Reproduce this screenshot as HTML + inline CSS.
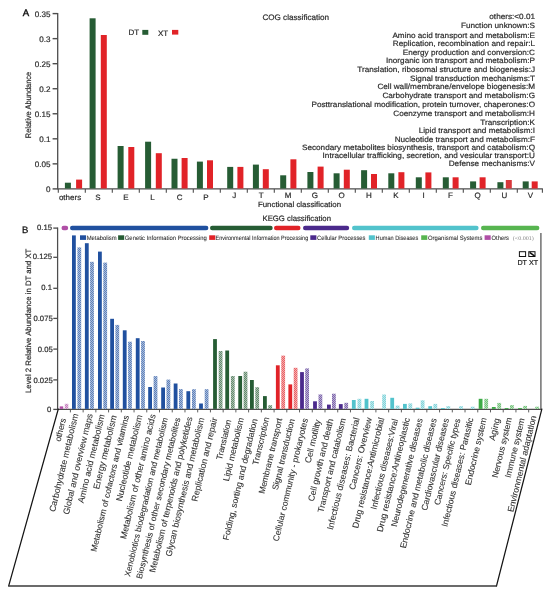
<!DOCTYPE html>
<html lang="en"><head><meta charset="utf-8"><title>COG and KEGG classification</title>
<style>html,body{margin:0;padding:0;background:#fff}svg{display:block}</style></head>
<body>
<svg width="550" height="596" viewBox="0 0 550 596" text-rendering="geometricPrecision" font-family="Liberation Sans, sans-serif">
<rect width="550" height="596" fill="#ffffff"/>
<defs>
<pattern id="h_blue" width="2" height="2" patternUnits="userSpaceOnUse"><rect width="2" height="2" fill="#aabcdb"/><rect width="1" height="1" fill="#5e81ba"/><rect x="1" y="1" width="1" height="1" fill="#5e81ba"/></pattern>
<pattern id="h_green" width="2" height="2" patternUnits="userSpaceOnUse"><rect width="2" height="2" fill="#adc1b2"/><rect width="1" height="1" fill="#638a6d"/><rect x="1" y="1" width="1" height="1" fill="#638a6d"/></pattern>
<pattern id="h_red" width="2" height="2" patternUnits="userSpaceOnUse"><rect width="2" height="2" fill="#f4abad"/><rect width="1" height="1" fill="#e96164"/><rect x="1" y="1" width="1" height="1" fill="#e96164"/></pattern>
<pattern id="h_purple" width="2" height="2" patternUnits="userSpaceOnUse"><rect width="2" height="2" fill="#bbaed3"/><rect width="1" height="1" fill="#7d66ac"/><rect x="1" y="1" width="1" height="1" fill="#7d66ac"/></pattern>
<pattern id="h_teal" width="2" height="2" patternUnits="userSpaceOnUse"><rect width="2" height="2" fill="#bde8ec"/><rect width="1" height="1" fill="#82d4da"/><rect x="1" y="1" width="1" height="1" fill="#82d4da"/></pattern>
<pattern id="h_lgreen" width="2" height="2" patternUnits="userSpaceOnUse"><rect width="2" height="2" fill="#b5dfb9"/><rect width="1" height="1" fill="#73c37a"/><rect x="1" y="1" width="1" height="1" fill="#73c37a"/></pattern>
<pattern id="h_mag" width="2" height="2" patternUnits="userSpaceOnUse"><rect width="2" height="2" fill="#e1bcdd"/><rect width="1" height="1" fill="#c680bf"/><rect x="1" y="1" width="1" height="1" fill="#c680bf"/></pattern>
</defs>
<path d="M57.7,13.0V188.9H542.9" fill="none" stroke="#4d4d4d" stroke-width="1.3"/>
<path d="M52.6,188.90H57.7" stroke="#4d4d4d" stroke-width="1.4"/>
<text transform="translate(50.60,192.20) scale(1.0,0.99)" font-size="8.1" text-anchor="end" fill="#2b2b2b" stroke="#2b2b2b" stroke-width="0.2" >0</text>
<path d="M52.6,163.86H57.7" stroke="#4d4d4d" stroke-width="1.4"/>
<text transform="translate(50.60,167.16) scale(1.0,0.99)" font-size="8.1" text-anchor="end" fill="#2b2b2b" stroke="#2b2b2b" stroke-width="0.2" >0.05</text>
<path d="M52.6,138.81H57.7" stroke="#4d4d4d" stroke-width="1.4"/>
<text transform="translate(50.60,142.11) scale(1.0,0.99)" font-size="8.1" text-anchor="end" fill="#2b2b2b" stroke="#2b2b2b" stroke-width="0.2" >0.1</text>
<path d="M52.6,113.77H57.7" stroke="#4d4d4d" stroke-width="1.4"/>
<text transform="translate(50.60,117.07) scale(1.0,0.99)" font-size="8.1" text-anchor="end" fill="#2b2b2b" stroke="#2b2b2b" stroke-width="0.2" >0.15</text>
<path d="M52.6,88.73H57.7" stroke="#4d4d4d" stroke-width="1.4"/>
<text transform="translate(50.60,92.03) scale(1.0,0.99)" font-size="8.1" text-anchor="end" fill="#2b2b2b" stroke="#2b2b2b" stroke-width="0.2" >0.2</text>
<path d="M52.6,63.69H57.7" stroke="#4d4d4d" stroke-width="1.4"/>
<text transform="translate(50.60,66.99) scale(1.0,0.99)" font-size="8.1" text-anchor="end" fill="#2b2b2b" stroke="#2b2b2b" stroke-width="0.2" >0.25</text>
<path d="M52.6,38.64H57.7" stroke="#4d4d4d" stroke-width="1.4"/>
<text transform="translate(50.60,41.94) scale(1.0,0.99)" font-size="8.1" text-anchor="end" fill="#2b2b2b" stroke="#2b2b2b" stroke-width="0.2" >0.3</text>
<path d="M52.6,13.60H57.7" stroke="#4d4d4d" stroke-width="1.4"/>
<text transform="translate(50.60,16.90) scale(1.0,0.99)" font-size="8.1" text-anchor="end" fill="#2b2b2b" stroke="#2b2b2b" stroke-width="0.2" >0.35</text>
<path d="M58.30,188.9V192.8" stroke="#4d4d4d" stroke-width="1.1"/>
<path d="M85.30,188.9V192.8" stroke="#4d4d4d" stroke-width="1.1"/>
<path d="M112.30,188.9V192.8" stroke="#4d4d4d" stroke-width="1.1"/>
<path d="M139.30,188.9V192.8" stroke="#4d4d4d" stroke-width="1.1"/>
<path d="M166.30,188.9V192.8" stroke="#4d4d4d" stroke-width="1.1"/>
<path d="M193.30,188.9V192.8" stroke="#4d4d4d" stroke-width="1.1"/>
<path d="M220.30,188.9V192.8" stroke="#4d4d4d" stroke-width="1.1"/>
<path d="M247.30,188.9V192.8" stroke="#4d4d4d" stroke-width="1.1"/>
<path d="M274.30,188.9V192.8" stroke="#4d4d4d" stroke-width="1.1"/>
<path d="M301.30,188.9V192.8" stroke="#4d4d4d" stroke-width="1.1"/>
<path d="M328.30,188.9V192.8" stroke="#4d4d4d" stroke-width="1.1"/>
<path d="M355.30,188.9V192.8" stroke="#4d4d4d" stroke-width="1.1"/>
<path d="M382.30,188.9V192.8" stroke="#4d4d4d" stroke-width="1.1"/>
<path d="M409.30,188.9V192.8" stroke="#4d4d4d" stroke-width="1.1"/>
<path d="M436.30,188.9V192.8" stroke="#4d4d4d" stroke-width="1.1"/>
<path d="M463.30,188.9V192.8" stroke="#4d4d4d" stroke-width="1.1"/>
<path d="M490.30,188.9V192.8" stroke="#4d4d4d" stroke-width="1.1"/>
<path d="M517.30,188.9V192.8" stroke="#4d4d4d" stroke-width="1.1"/>
<path d="M542.40,188.9V192.8" stroke="#4d4d4d" stroke-width="1.1"/>
<rect x="64.9" y="182.7" width="6" height="5.80" fill="#265c34"/>
<rect x="76.1" y="179.6" width="6" height="8.90" fill="#e12328"/>
<text transform="translate(70.00,200.00) scale(1.0,0.97)" font-size="8.0" text-anchor="middle" fill="#2b2b2b" stroke="#2b2b2b" stroke-width="0.2" >others</text>
<rect x="89.6" y="18.3" width="6" height="170.20" fill="#265c34"/>
<rect x="100.8" y="35.0" width="6" height="153.50" fill="#e12328"/>
<text transform="translate(98.00,200.00) scale(1.0,0.97)" font-size="8.0" text-anchor="middle" fill="#2b2b2b" stroke="#2b2b2b" stroke-width="0.2" >S</text>
<rect x="117.6" y="146.0" width="6" height="42.50" fill="#265c34"/>
<rect x="128.3" y="147.0" width="6" height="41.50" fill="#e12328"/>
<text transform="translate(126.00,200.00) scale(1.0,0.97)" font-size="8.0" text-anchor="middle" fill="#2b2b2b" stroke="#2b2b2b" stroke-width="0.2" >E</text>
<rect x="145.1" y="141.7" width="6" height="46.80" fill="#265c34"/>
<rect x="155.8" y="153.2" width="6" height="35.30" fill="#e12328"/>
<text transform="translate(152.50,200.00) scale(1.0,0.97)" font-size="8.0" text-anchor="middle" fill="#2b2b2b" stroke="#2b2b2b" stroke-width="0.2" >L</text>
<rect x="171.5" y="158.75" width="6" height="29.75" fill="#265c34"/>
<rect x="181.6" y="158.0" width="6" height="30.50" fill="#e12328"/>
<text transform="translate(179.60,200.00) scale(1.0,0.97)" font-size="8.0" text-anchor="middle" fill="#2b2b2b" stroke="#2b2b2b" stroke-width="0.2" >C</text>
<rect x="196.9" y="161.6" width="6" height="26.90" fill="#265c34"/>
<rect x="207.0" y="160.3" width="6" height="28.20" fill="#e12328"/>
<text transform="translate(205.80,200.00) scale(1.0,0.97)" font-size="8.0" text-anchor="middle" fill="#2b2b2b" stroke="#2b2b2b" stroke-width="0.2" >P</text>
<rect x="227.2" y="166.9" width="6" height="21.60" fill="#265c34"/>
<rect x="237.4" y="166.9" width="6" height="21.60" fill="#e12328"/>
<text transform="translate(234.30,198.40) scale(1.0,0.97)" font-size="8.0" text-anchor="middle" fill="#2b2b2b" stroke="#2b2b2b" stroke-width="0.2" >J</text>
<rect x="252.9" y="164.6" width="6" height="23.90" fill="#265c34"/>
<rect x="262.8" y="169.2" width="6" height="19.30" fill="#e12328"/>
<text transform="translate(261.20,197.50) scale(1.0,0.97)" font-size="8.0" text-anchor="middle" fill="#2b2b2b" stroke="#2b2b2b" stroke-width="0.2" >T</text>
<rect x="280.2" y="175.3" width="6" height="13.20" fill="#265c34"/>
<rect x="290.4" y="159.3" width="6" height="29.20" fill="#e12328"/>
<text transform="translate(288.00,197.50) scale(1.0,0.97)" font-size="8.0" text-anchor="middle" fill="#2b2b2b" stroke="#2b2b2b" stroke-width="0.2" >M</text>
<rect x="307.4" y="172.0" width="6" height="16.50" fill="#265c34"/>
<rect x="317.6" y="166.6" width="6" height="21.90" fill="#e12328"/>
<text transform="translate(314.80,197.50) scale(1.0,0.97)" font-size="8.0" text-anchor="middle" fill="#2b2b2b" stroke="#2b2b2b" stroke-width="0.2" >G</text>
<rect x="333.6" y="173.3" width="6" height="15.20" fill="#265c34"/>
<rect x="343.8" y="169.7" width="6" height="18.80" fill="#e12328"/>
<text transform="translate(341.50,197.50) scale(1.0,0.97)" font-size="8.0" text-anchor="middle" fill="#2b2b2b" stroke="#2b2b2b" stroke-width="0.2" >O</text>
<rect x="361.1" y="170.2" width="6" height="18.30" fill="#265c34"/>
<rect x="371.0" y="174.0" width="6" height="14.50" fill="#e12328"/>
<text transform="translate(369.00,197.50) scale(1.0,0.97)" font-size="8.0" text-anchor="middle" fill="#2b2b2b" stroke="#2b2b2b" stroke-width="0.2" >H</text>
<rect x="388.3" y="173.3" width="6" height="15.20" fill="#265c34"/>
<rect x="398.4" y="172.2" width="6" height="16.30" fill="#e12328"/>
<text transform="translate(396.00,197.50) scale(1.0,0.97)" font-size="8.0" text-anchor="middle" fill="#2b2b2b" stroke="#2b2b2b" stroke-width="0.2" >K</text>
<rect x="415.8" y="177.3" width="6" height="11.20" fill="#265c34"/>
<rect x="425.4" y="172.4" width="6" height="16.10" fill="#e12328"/>
<text transform="translate(423.70,197.50) scale(1.0,0.97)" font-size="8.0" text-anchor="middle" fill="#2b2b2b" stroke="#2b2b2b" stroke-width="0.2" >I</text>
<rect x="442.8" y="177.3" width="6" height="11.20" fill="#265c34"/>
<rect x="452.6" y="177.3" width="6" height="11.20" fill="#e12328"/>
<text transform="translate(450.50,197.50) scale(1.0,0.97)" font-size="8.0" text-anchor="middle" fill="#2b2b2b" stroke="#2b2b2b" stroke-width="0.2" >F</text>
<rect x="470.1" y="181.4" width="6" height="7.10" fill="#265c34"/>
<rect x="479.6" y="177.3" width="6" height="11.20" fill="#e12328"/>
<text transform="translate(477.70,197.50) scale(1.0,0.97)" font-size="8.0" text-anchor="middle" fill="#2b2b2b" stroke="#2b2b2b" stroke-width="0.2" >Q</text>
<rect x="497.4" y="182.2" width="6" height="6.30" fill="#265c34"/>
<rect x="505.8" y="180.0" width="6" height="8.50" fill="#d8383c"/>
<text transform="translate(504.40,197.50) scale(1.0,0.97)" font-size="8.0" text-anchor="middle" fill="#2b2b2b" stroke="#2b2b2b" stroke-width="0.2" >U</text>
<rect x="522.7" y="181.4" width="6" height="7.10" fill="#265c34"/>
<rect x="531.7" y="181.4" width="6" height="7.10" fill="#e12328"/>
<text transform="translate(530.40,197.50) scale(1.0,0.97)" font-size="8.0" text-anchor="middle" fill="#2b2b2b" stroke="#2b2b2b" stroke-width="0.2" >V</text>
<text transform="translate(22.80,16.30)" font-size="9.6" text-anchor="start" fill="#111" stroke="#111" stroke-width="0.45" >A</text>
<text transform="translate(30.90,105.00) rotate(-90) scale(0.935,1.0)" font-size="8.0" text-anchor="middle" fill="#2b2b2b" stroke="#2b2b2b" stroke-width="0.2" >Relative Abundance</text>
<text transform="translate(128.40,35.00) scale(1.0,0.97)" font-size="8.0" text-anchor="start" fill="#2b2b2b" stroke="#2b2b2b" stroke-width="0.2" >DT</text>
<rect x="142.3" y="29.9" width="6" height="4.9" fill="#265c34"/>
<text transform="translate(158.00,35.60) scale(1.0,0.97)" font-size="8.0" text-anchor="start" fill="#2b2b2b" stroke="#2b2b2b" stroke-width="0.2" >XT</text>
<rect x="172" y="29.9" width="6.3" height="4.7" fill="#e12328"/>
<text transform="translate(262.40,19.50) scale(1.0,0.98)" font-size="8.12" text-anchor="start" fill="#2b2b2b" stroke="#2b2b2b" stroke-width="0.2" >COG classification</text>
<text transform="translate(257.90,206.80) scale(1.0,0.97)" font-size="7.88" text-anchor="start" fill="#2b2b2b" stroke="#2b2b2b" stroke-width="0.2" >Functional classification</text>
<text transform="translate(535.00,18.90) scale(1.0,0.94)" font-size="8.19" text-anchor="end" fill="#2b2b2b" stroke="#2b2b2b" stroke-width="0.2" >others:&lt;0.01</text>
<text transform="translate(535.00,28.20) scale(1.0,0.94)" font-size="8.19" text-anchor="end" fill="#2b2b2b" stroke="#2b2b2b" stroke-width="0.2" >Function unknown:S</text>
<text transform="translate(535.00,37.70) scale(1.0,0.94)" font-size="8.19" text-anchor="end" fill="#2b2b2b" stroke="#2b2b2b" stroke-width="0.2" >Amino acid transport and metabolism:E</text>
<text transform="translate(535.00,46.10) scale(1.0,0.94)" font-size="8.19" text-anchor="end" fill="#2b2b2b" stroke="#2b2b2b" stroke-width="0.2" >Replication, recombination and repair:L</text>
<text transform="translate(535.00,54.60) scale(1.0,0.94)" font-size="8.19" text-anchor="end" fill="#2b2b2b" stroke="#2b2b2b" stroke-width="0.2" >Energy production and conversion:C</text>
<text transform="translate(535.00,63.30) scale(1.0,0.94)" font-size="8.19" text-anchor="end" fill="#2b2b2b" stroke="#2b2b2b" stroke-width="0.2" >Inorganic ion transport and metabolism:P</text>
<text transform="translate(535.00,72.30) scale(1.0,0.94)" font-size="8.19" text-anchor="end" fill="#2b2b2b" stroke="#2b2b2b" stroke-width="0.2" >Translation, ribosomal structure and biogenesis:J</text>
<text transform="translate(535.00,81.00) scale(1.0,0.94)" font-size="8.19" text-anchor="end" fill="#2b2b2b" stroke="#2b2b2b" stroke-width="0.2" >Signal transduction mechanisms:T</text>
<text transform="translate(535.00,89.30) scale(1.0,0.94)" font-size="8.19" text-anchor="end" fill="#2b2b2b" stroke="#2b2b2b" stroke-width="0.2" >Cell wall/membrane/envelope biogenesis:M</text>
<text transform="translate(535.00,97.80) scale(1.0,0.94)" font-size="8.19" text-anchor="end" fill="#2b2b2b" stroke="#2b2b2b" stroke-width="0.2" >Carbohydrate transport and metabolism:G</text>
<text transform="translate(535.00,106.80) scale(1.0,0.94)" font-size="8.19" text-anchor="end" fill="#2b2b2b" stroke="#2b2b2b" stroke-width="0.2" >Posttranslational modification, protein turnover, chaperones:O</text>
<text transform="translate(535.00,115.70) scale(1.0,0.94)" font-size="8.19" text-anchor="end" fill="#2b2b2b" stroke="#2b2b2b" stroke-width="0.2" >Coenzyme transport and metabolism:H</text>
<text transform="translate(535.00,124.50) scale(1.0,0.94)" font-size="8.19" text-anchor="end" fill="#2b2b2b" stroke="#2b2b2b" stroke-width="0.2" >Transcription:K</text>
<text transform="translate(535.00,133.20) scale(1.0,0.94)" font-size="8.19" text-anchor="end" fill="#2b2b2b" stroke="#2b2b2b" stroke-width="0.2" >Lipid transport and metabolism:I</text>
<text transform="translate(535.00,141.70) scale(1.0,0.94)" font-size="8.19" text-anchor="end" fill="#2b2b2b" stroke="#2b2b2b" stroke-width="0.2" >Nucleotide transport and metabolism:F</text>
<text transform="translate(535.00,150.20) scale(1.0,0.94)" font-size="8.19" text-anchor="end" fill="#2b2b2b" stroke="#2b2b2b" stroke-width="0.2" >Secondary metabolites biosynthesis, transport and catabolism:Q</text>
<text transform="translate(535.00,158.40) scale(1.0,0.94)" font-size="8.19" text-anchor="end" fill="#2b2b2b" stroke="#2b2b2b" stroke-width="0.2" >Intracellular trafficking, secretion, and vesicular transport:U</text>
<text transform="translate(535.00,166.10) scale(1.0,0.94)" font-size="8.19" text-anchor="end" fill="#2b2b2b" stroke="#2b2b2b" stroke-width="0.2" >Defense mechanisms:V</text>
<path d="M57.6,227.4V409.3H541.6" fill="none" stroke="#4d4d4d" stroke-width="1.25"/>
<path d="M540.9,233V409.3" stroke="#666" stroke-width="1.4"/>
<path d="M53.3,409.40H57.6" stroke="#4d4d4d" stroke-width="1.3"/>
<text transform="translate(51.20,412.10)" font-size="7.7" text-anchor="end" fill="#2b2b2b" stroke="#2b2b2b" stroke-width="0.2" >0</text>
<path d="M53.3,379.90H57.6" stroke="#4d4d4d" stroke-width="1.3"/>
<text transform="translate(52.70,382.60)" font-size="7.7" text-anchor="end" fill="#2b2b2b" stroke="#2b2b2b" stroke-width="0.2" >0.025</text>
<path d="M53.3,349.10H57.6" stroke="#4d4d4d" stroke-width="1.3"/>
<text transform="translate(52.70,351.80)" font-size="7.7" text-anchor="end" fill="#2b2b2b" stroke="#2b2b2b" stroke-width="0.2" >0.05</text>
<path d="M53.3,318.40H57.6" stroke="#4d4d4d" stroke-width="1.3"/>
<text transform="translate(52.70,321.10)" font-size="7.7" text-anchor="end" fill="#2b2b2b" stroke="#2b2b2b" stroke-width="0.2" >0.075</text>
<path d="M53.3,288.30H57.6" stroke="#4d4d4d" stroke-width="1.3"/>
<text transform="translate(52.00,290.20)" font-size="7.7" text-anchor="end" fill="#2b2b2b" stroke="#2b2b2b" stroke-width="0.2" >0.1</text>
<path d="M53.3,257.30H57.6" stroke="#4d4d4d" stroke-width="1.3"/>
<text transform="translate(52.00,259.20)" font-size="7.7" text-anchor="end" fill="#2b2b2b" stroke="#2b2b2b" stroke-width="0.2" >0.125</text>
<path d="M53.3,228.10H57.6" stroke="#4d4d4d" stroke-width="1.3"/>
<text transform="translate(52.00,230.00)" font-size="7.7" text-anchor="end" fill="#2b2b2b" stroke="#2b2b2b" stroke-width="0.2" >0.15</text>
<path d="M70.40,409.3V412.4" stroke="#4d4d4d" stroke-width="0.9"/>
<path d="M83.13,409.3V412.4" stroke="#4d4d4d" stroke-width="0.9"/>
<path d="M95.86,409.3V412.4" stroke="#4d4d4d" stroke-width="0.9"/>
<path d="M108.59,409.3V412.4" stroke="#4d4d4d" stroke-width="0.9"/>
<path d="M121.32,409.3V412.4" stroke="#4d4d4d" stroke-width="0.9"/>
<path d="M134.05,409.3V412.4" stroke="#4d4d4d" stroke-width="0.9"/>
<path d="M146.78,409.3V412.4" stroke="#4d4d4d" stroke-width="0.9"/>
<path d="M159.51,409.3V412.4" stroke="#4d4d4d" stroke-width="0.9"/>
<path d="M172.24,409.3V412.4" stroke="#4d4d4d" stroke-width="0.9"/>
<path d="M184.97,409.3V412.4" stroke="#4d4d4d" stroke-width="0.9"/>
<path d="M197.70,409.3V412.4" stroke="#4d4d4d" stroke-width="0.9"/>
<path d="M210.43,409.3V412.4" stroke="#4d4d4d" stroke-width="0.9"/>
<path d="M223.16,409.3V412.4" stroke="#4d4d4d" stroke-width="0.9"/>
<path d="M235.89,409.3V412.4" stroke="#4d4d4d" stroke-width="0.9"/>
<path d="M248.62,409.3V412.4" stroke="#4d4d4d" stroke-width="0.9"/>
<path d="M261.35,409.3V412.4" stroke="#4d4d4d" stroke-width="0.9"/>
<path d="M274.08,409.3V412.4" stroke="#4d4d4d" stroke-width="0.9"/>
<path d="M286.81,409.3V412.4" stroke="#4d4d4d" stroke-width="0.9"/>
<path d="M299.54,409.3V412.4" stroke="#4d4d4d" stroke-width="0.9"/>
<path d="M312.27,409.3V412.4" stroke="#4d4d4d" stroke-width="0.9"/>
<path d="M325.00,409.3V412.4" stroke="#4d4d4d" stroke-width="0.9"/>
<path d="M337.73,409.3V412.4" stroke="#4d4d4d" stroke-width="0.9"/>
<path d="M350.46,409.3V412.4" stroke="#4d4d4d" stroke-width="0.9"/>
<path d="M363.19,409.3V412.4" stroke="#4d4d4d" stroke-width="0.9"/>
<path d="M375.92,409.3V412.4" stroke="#4d4d4d" stroke-width="0.9"/>
<path d="M388.65,409.3V412.4" stroke="#4d4d4d" stroke-width="0.9"/>
<path d="M401.38,409.3V412.4" stroke="#4d4d4d" stroke-width="0.9"/>
<path d="M414.11,409.3V412.4" stroke="#4d4d4d" stroke-width="0.9"/>
<path d="M426.84,409.3V412.4" stroke="#4d4d4d" stroke-width="0.9"/>
<path d="M439.57,409.3V412.4" stroke="#4d4d4d" stroke-width="0.9"/>
<path d="M452.30,409.3V412.4" stroke="#4d4d4d" stroke-width="0.9"/>
<path d="M465.03,409.3V412.4" stroke="#4d4d4d" stroke-width="0.9"/>
<path d="M477.76,409.3V412.4" stroke="#4d4d4d" stroke-width="0.9"/>
<path d="M490.49,409.3V412.4" stroke="#4d4d4d" stroke-width="0.9"/>
<path d="M503.22,409.3V412.4" stroke="#4d4d4d" stroke-width="0.9"/>
<path d="M515.95,409.3V412.4" stroke="#4d4d4d" stroke-width="0.9"/>
<path d="M528.68,409.3V412.4" stroke="#4d4d4d" stroke-width="0.9"/>
<path d="M58.2,409.3L8.7,585.8M496.5,585.9L541.8,409.3" fill="none" stroke="#141414" stroke-width="1.25" stroke-linecap="square"/>
<path d="M8.4,585.9H496.7" fill="none" stroke="#3a3a3a" stroke-width="1.5"/>
<rect x="61.5" y="225.8" width="6.70" height="4.4" rx="2.2" fill="#b04fa6"/>
<rect x="70.0" y="225.8" width="138.40" height="4.4" rx="2.2" fill="#20509f"/>
<rect x="210.0" y="225.8" width="62.70" height="4.4" rx="2.2" fill="#265c34"/>
<rect x="274.0" y="225.8" width="26.50" height="4.4" rx="2.2" fill="#e12328"/>
<rect x="303.0" y="225.8" width="46.20" height="4.4" rx="2.2" fill="#4b2a8c"/>
<rect x="352.0" y="225.8" width="126.60" height="4.4" rx="2.2" fill="#52c3cc"/>
<rect x="481.0" y="225.8" width="58.40" height="4.4" rx="2.2" fill="#57b550"/>
<rect x="80.0" y="235.3" width="6.1" height="4.6" fill="#20509f"/>
<text transform="translate(86.70,240.10)" font-size="6.25" text-anchor="start" fill="#262626" stroke="#262626" stroke-width="0.06" textLength="30.0" lengthAdjust="spacingAndGlyphs">Metabolism</text>
<rect x="118.1" y="235.3" width="6.1" height="4.6" fill="#265c34"/>
<text transform="translate(124.80,240.10)" font-size="6.25" text-anchor="start" fill="#262626" stroke="#262626" stroke-width="0.06" textLength="81.9" lengthAdjust="spacingAndGlyphs">Genetic Information Processing</text>
<rect x="209.2" y="235.3" width="6.1" height="4.6" fill="#e12328"/>
<text transform="translate(215.50,240.10)" font-size="6.25" text-anchor="start" fill="#262626" stroke="#262626" stroke-width="0.06" textLength="92.7" lengthAdjust="spacingAndGlyphs">Environmental Information Processing</text>
<rect x="310.3" y="235.3" width="6.1" height="4.6" fill="#4b2a8c"/>
<text transform="translate(317.00,240.10)" font-size="6.25" text-anchor="start" fill="#262626" stroke="#262626" stroke-width="0.06" textLength="48.5" lengthAdjust="spacingAndGlyphs">Cellular Processes</text>
<rect x="368.8" y="235.3" width="6.1" height="4.6" fill="#52c3cc"/>
<text transform="translate(375.60,240.10)" font-size="6.25" text-anchor="start" fill="#262626" stroke="#262626" stroke-width="0.06" textLength="42.6" lengthAdjust="spacingAndGlyphs">Human Diseases</text>
<rect x="421.2" y="235.3" width="6.1" height="4.6" fill="#57b550"/>
<text transform="translate(428.00,240.10)" font-size="6.25" text-anchor="start" fill="#262626" stroke="#262626" stroke-width="0.06" textLength="54.4" lengthAdjust="spacingAndGlyphs">Organismal Systems</text>
<rect x="484.6" y="235.3" width="6.1" height="4.6" fill="#b04fa6"/>
<text transform="translate(491.60,240.10)" font-size="6.25" text-anchor="start" fill="#262626" stroke="#262626" stroke-width="0.06" textLength="17.4" lengthAdjust="spacingAndGlyphs">Others</text>
<text x="512.8" y="239.7" font-size="5.7" fill="#858585" font-family="Liberation Serif, serif" textLength="21" lengthAdjust="spacingAndGlyphs">(&lt;0.001)</text>
<rect x="519.4" y="251.7" width="6.2" height="4.8" fill="#fff" stroke="#111" stroke-width="1"/>
<rect x="528.8" y="251.7" width="6.2" height="4.8" fill="#fff" stroke="#111" stroke-width="1"/>
<path d="M529.6,252.3L534.6,256.2" stroke="#111" stroke-width="1.5"/>
<text transform="translate(517.40,264.50)" font-size="7.2" text-anchor="start" fill="#222" stroke="#222" stroke-width="0.2" >DT</text>
<text transform="translate(528.90,264.50)" font-size="7.2" text-anchor="start" fill="#222" stroke="#222" stroke-width="0.2" >XT</text>
<text transform="translate(21.90,232.50)" font-size="9.5" text-anchor="start" fill="#111" stroke="#111" stroke-width="0.25" >B</text>
<text transform="translate(262.50,221.40)" font-size="7.75" text-anchor="start" fill="#2b2b2b" stroke="#2b2b2b" stroke-width="0.2" >KEGG classification</text>
<text transform="translate(30.50,320.80) rotate(-90)" font-size="7.79" text-anchor="middle" fill="#2b2b2b" stroke="#2b2b2b" stroke-width="0.2" >Level 2 Relative Abundance in DT and XT</text>
<rect x="59.7" y="406.4" width="3.5" height="2.50" fill="#b04fa6"/>
<rect x="64.8" y="403.8" width="3.5" height="5.10" fill="url(#h_mag)"/>
<rect x="72.0" y="235.4" width="3.8" height="173.50" fill="#20509f"/>
<rect x="77.4" y="247.4" width="3.8" height="161.50" fill="url(#h_blue)"/>
<rect x="84.9" y="243.2" width="3.8" height="165.70" fill="#20509f"/>
<rect x="90.1" y="261.8" width="3.8" height="147.10" fill="url(#h_blue)"/>
<rect x="98.0" y="251.6" width="3.8" height="157.30" fill="#20509f"/>
<rect x="103.3" y="262.6" width="3.8" height="146.30" fill="url(#h_blue)"/>
<rect x="110.2" y="318.8" width="3.8" height="90.10" fill="#20509f"/>
<rect x="115.4" y="324.9" width="3.8" height="84.00" fill="url(#h_blue)"/>
<rect x="122.8" y="330.3" width="3.8" height="78.60" fill="#20509f"/>
<rect x="128.1" y="341.7" width="3.8" height="67.20" fill="url(#h_blue)"/>
<rect x="135.8" y="338.2" width="3.8" height="70.70" fill="#20509f"/>
<rect x="141.1" y="341.0" width="3.8" height="67.90" fill="url(#h_blue)"/>
<rect x="148.2" y="387.0" width="3.8" height="21.90" fill="#20509f"/>
<rect x="153.6" y="376.1" width="3.8" height="32.80" fill="url(#h_blue)"/>
<rect x="161.2" y="387.5" width="3.8" height="21.40" fill="#20509f"/>
<rect x="166.5" y="379.6" width="3.8" height="29.30" fill="url(#h_blue)"/>
<rect x="173.7" y="383.5" width="3.8" height="25.40" fill="#20509f"/>
<rect x="179.0" y="389.1" width="3.8" height="19.80" fill="url(#h_blue)"/>
<rect x="186.4" y="391.2" width="3.8" height="17.70" fill="#20509f"/>
<rect x="192.0" y="389.2" width="3.8" height="19.70" fill="url(#h_blue)"/>
<rect x="199.1" y="403.5" width="3.8" height="5.40" fill="#20509f"/>
<rect x="204.7" y="389.2" width="3.8" height="19.70" fill="url(#h_blue)"/>
<rect x="213.1" y="339.1" width="3.8" height="69.80" fill="#265c34"/>
<rect x="218.7" y="351.0" width="3.8" height="57.90" fill="url(#h_green)"/>
<rect x="225.3" y="350.5" width="3.8" height="58.40" fill="#265c34"/>
<rect x="230.9" y="376.0" width="3.8" height="32.90" fill="url(#h_green)"/>
<rect x="238.3" y="376.0" width="3.8" height="32.90" fill="#265c34"/>
<rect x="243.6" y="371.7" width="3.8" height="37.20" fill="url(#h_green)"/>
<rect x="250.0" y="380.0" width="3.8" height="28.90" fill="#265c34"/>
<rect x="255.3" y="387.2" width="3.8" height="21.70" fill="url(#h_green)"/>
<rect x="263.0" y="396.1" width="3.8" height="12.80" fill="#265c34"/>
<rect x="268.3" y="405.2" width="3.8" height="3.70" fill="url(#h_green)"/>
<rect x="275.9" y="365.3" width="3.8" height="43.60" fill="#e12328"/>
<rect x="281.3" y="355.6" width="3.8" height="53.30" fill="url(#h_red)"/>
<rect x="288.4" y="384.4" width="3.8" height="24.50" fill="#e12328"/>
<rect x="293.7" y="367.8" width="3.8" height="41.10" fill="url(#h_red)"/>
<rect x="300.1" y="372.1" width="3.8" height="36.80" fill="#4b2a8c"/>
<rect x="305.2" y="368.4" width="3.8" height="40.50" fill="url(#h_purple)"/>
<rect x="313.1" y="401.3" width="3.8" height="7.60" fill="#4b2a8c"/>
<rect x="318.5" y="394.4" width="3.8" height="14.50" fill="url(#h_purple)"/>
<rect x="327.0" y="404.6" width="3.8" height="4.30" fill="#4b2a8c"/>
<rect x="332.0" y="393.7" width="3.8" height="15.20" fill="url(#h_purple)"/>
<rect x="338.9" y="404.1" width="3.8" height="4.80" fill="#4b2a8c"/>
<rect x="344.3" y="402.8" width="3.8" height="6.10" fill="url(#h_purple)"/>
<rect x="351.9" y="400.0" width="3.8" height="8.90" fill="#52c3cc"/>
<rect x="357.5" y="398.8" width="3.8" height="10.10" fill="url(#h_teal)"/>
<rect x="364.6" y="398.8" width="3.8" height="10.10" fill="#52c3cc"/>
<rect x="370.2" y="401.0" width="3.8" height="7.90" fill="url(#h_teal)"/>
<rect x="382.2" y="394.5" width="3.8" height="14.40" fill="url(#h_teal)"/>
<rect x="390.3" y="397.8" width="3.8" height="11.10" fill="#52c3cc"/>
<rect x="395.7" y="405.6" width="3.8" height="3.30" fill="url(#h_teal)"/>
<rect x="403.0" y="403.9" width="3.8" height="5.00" fill="#52c3cc"/>
<rect x="408.4" y="403.4" width="3.8" height="5.50" fill="url(#h_teal)"/>
<rect x="415.7" y="407.7" width="3.8" height="1.20" fill="#52c3cc"/>
<rect x="420.7" y="400.3" width="3.8" height="8.60" fill="url(#h_teal)"/>
<rect x="428.3" y="406.2" width="3.8" height="2.70" fill="#52c3cc"/>
<rect x="433.4" y="403.9" width="3.8" height="5.00" fill="url(#h_teal)"/>
<rect x="441.0" y="408.0" width="3.8" height="0.90" fill="#52c3cc"/>
<rect x="446.4" y="406.2" width="3.8" height="2.70" fill="url(#h_teal)"/>
<rect x="459.1" y="406.2" width="3.8" height="2.70" fill="url(#h_teal)"/>
<rect x="470.8" y="406.7" width="3.8" height="2.20" fill="url(#h_teal)"/>
<rect x="478.7" y="398.8" width="3.8" height="10.10" fill="#3dab46"/>
<rect x="484.3" y="398.8" width="3.8" height="10.10" fill="url(#h_lgreen)"/>
<rect x="491.9" y="407.0" width="3.8" height="1.90" fill="#3dab46"/>
<rect x="497.3" y="402.9" width="3.8" height="6.00" fill="url(#h_lgreen)"/>
<rect x="504.7" y="408.0" width="3.8" height="0.90" fill="#3dab46"/>
<rect x="510.0" y="405.1" width="3.8" height="3.80" fill="url(#h_lgreen)"/>
<rect x="518.1" y="408.0" width="3.8" height="0.90" fill="#3dab46"/>
<rect x="523.2" y="405.9" width="3.8" height="3.00" fill="url(#h_lgreen)"/>
<rect x="535.2" y="406.7" width="3.8" height="2.20" fill="url(#h_lgreen)"/>
<text transform="translate(66.00,419.00) rotate(-76.50)" font-size="8.550" text-anchor="end" fill="#303030" stroke="#303030" stroke-width="0.08">others</text>
<text transform="translate(78.40,414.40) rotate(-76.50)" font-size="8.803" text-anchor="end" fill="#303030" stroke="#303030" stroke-width="0.08">Carbohydrate metabolism</text>
<text transform="translate(92.80,414.40) rotate(-76.50)" font-size="8.797" text-anchor="end" fill="#303030" stroke="#303030" stroke-width="0.08">Global and overview maps</text>
<text transform="translate(104.80,415.00) rotate(-76.50)" font-size="8.826" text-anchor="end" fill="#303030" stroke="#303030" stroke-width="0.08">Amino acid metabolism</text>
<text transform="translate(116.80,416.00) rotate(-76.50)" font-size="8.876" text-anchor="end" fill="#303030" stroke="#303030" stroke-width="0.08">Energy metabolism</text>
<text transform="translate(129.00,416.00) rotate(-76.50)" font-size="8.525" text-anchor="end" fill="#303030" stroke="#303030" stroke-width="0.08">Metabolism of cofactors and vitamins</text>
<text transform="translate(142.40,415.60) rotate(-76.50)" font-size="8.770" text-anchor="end" fill="#303030" stroke="#303030" stroke-width="0.08">Nucleotide metabolism</text>
<text transform="translate(155.80,415.00) rotate(-76.50)" font-size="8.902" text-anchor="end" fill="#303030" stroke="#303030" stroke-width="0.08">Metabolism of other amino acids</text>
<text transform="translate(168.00,418.40) rotate(-76.50)" font-size="8.428" text-anchor="end" fill="#303030" stroke="#303030" stroke-width="0.08">Xenobiotics biodegradation and metabolism</text>
<text transform="translate(180.40,418.40) rotate(-76.50)" font-size="8.461" text-anchor="end" fill="#303030" stroke="#303030" stroke-width="0.08">Biosynthesis of other secondary metabolites</text>
<text transform="translate(192.40,417.60) rotate(-76.50)" font-size="8.693" text-anchor="end" fill="#303030" stroke="#303030" stroke-width="0.08">Metabolism of terpenoids and polyketides</text>
<text transform="translate(204.40,418.40) rotate(-76.50)" font-size="8.790" text-anchor="end" fill="#303030" stroke="#303030" stroke-width="0.08">Glycan biosynthesis and metabolism</text>
<text transform="translate(217.40,418.40) rotate(-76.50)" font-size="8.841" text-anchor="end" fill="#303030" stroke="#303030" stroke-width="0.08">Replication and repair</text>
<text transform="translate(231.40,420.40) rotate(-76.50)" font-size="8.378" text-anchor="end" fill="#303030" stroke="#303030" stroke-width="0.08">Translation</text>
<text transform="translate(244.00,418.40) rotate(-76.50)" font-size="8.683" text-anchor="end" fill="#303030" stroke="#303030" stroke-width="0.08">Lipid metabolism</text>
<text transform="translate(257.60,419.50) rotate(-76.50)" font-size="8.680" text-anchor="end" fill="#303030" stroke="#303030" stroke-width="0.08">Folding, sorting and degradation</text>
<text transform="translate(269.40,418.00) rotate(-76.50)" font-size="8.516" text-anchor="end" fill="#303030" stroke="#303030" stroke-width="0.08">Transcription</text>
<text transform="translate(282.40,419.00) rotate(-76.50)" font-size="8.610" text-anchor="end" fill="#303030" stroke="#303030" stroke-width="0.08">Membrane transport</text>
<text transform="translate(294.80,419.60) rotate(-76.50)" font-size="8.587" text-anchor="end" fill="#303030" stroke="#303030" stroke-width="0.08">Signal transduction</text>
<text transform="translate(308.00,419.00) rotate(-76.50)" font-size="8.651" text-anchor="end" fill="#303030" stroke="#303030" stroke-width="0.08">Cellular community - prokaryotes</text>
<text transform="translate(320.80,420.40) rotate(-76.50)" font-size="8.708" text-anchor="end" fill="#303030" stroke="#303030" stroke-width="0.08">Cell motility</text>
<text transform="translate(333.40,419.60) rotate(-76.50)" font-size="8.704" text-anchor="end" fill="#303030" stroke="#303030" stroke-width="0.08">Cell growth and death</text>
<text transform="translate(345.80,419.00) rotate(-76.50)" font-size="8.615" text-anchor="end" fill="#303030" stroke="#303030" stroke-width="0.08">Transport and catabolism</text>
<text transform="translate(359.70,418.40) rotate(-76.50)" font-size="8.905" text-anchor="end" fill="#303030" stroke="#303030" stroke-width="0.08">Infectious diseases: Bacterial</text>
<text transform="translate(372.00,418.40) rotate(-76.50)" font-size="8.746" text-anchor="end" fill="#303030" stroke="#303030" stroke-width="0.08">Cancers: Overview</text>
<text transform="translate(384.40,418.40) rotate(-76.50)" font-size="8.730" text-anchor="end" fill="#303030" stroke="#303030" stroke-width="0.08">Drug resistance:Antimicrobial</text>
<text transform="translate(398.00,419.60) rotate(-76.50)" font-size="8.635" text-anchor="end" fill="#303030" stroke="#303030" stroke-width="0.08">Infectious diseases:Viral</text>
<text transform="translate(410.00,418.40) rotate(-76.50)" font-size="8.709" text-anchor="end" fill="#303030" stroke="#303030" stroke-width="0.08">Drug resistance:Antineoplastic</text>
<text transform="translate(422.80,419.00) rotate(-76.50)" font-size="8.757" text-anchor="end" fill="#303030" stroke="#303030" stroke-width="0.08">Neurodegenerative diseases</text>
<text transform="translate(436.80,419.00) rotate(-76.50)" font-size="8.783" text-anchor="end" fill="#303030" stroke="#303030" stroke-width="0.08">Endocrine and metabolic diseases</text>
<text transform="translate(449.00,419.00) rotate(-76.50)" font-size="8.682" text-anchor="end" fill="#303030" stroke="#303030" stroke-width="0.08">Cardiovascular diseases</text>
<text transform="translate(460.40,419.40) rotate(-76.50)" font-size="8.499" text-anchor="end" fill="#303030" stroke="#303030" stroke-width="0.08">Cancers: Specific types</text>
<text transform="translate(473.40,418.40) rotate(-76.50)" font-size="8.707" text-anchor="end" fill="#303030" stroke="#303030" stroke-width="0.08">Infectious diseases: Parasitic</text>
<text transform="translate(486.80,418.40) rotate(-76.50)" font-size="8.717" text-anchor="end" fill="#303030" stroke="#303030" stroke-width="0.08">Endocrine system</text>
<text transform="translate(500.00,419.00) rotate(-76.50)" font-size="8.829" text-anchor="end" fill="#303030" stroke="#303030" stroke-width="0.08">Aging</text>
<text transform="translate(512.00,418.40) rotate(-76.50)" font-size="8.602" text-anchor="end" fill="#303030" stroke="#303030" stroke-width="0.08">Nervous system</text>
<text transform="translate(524.80,419.00) rotate(-76.50)" font-size="8.646" text-anchor="end" fill="#303030" stroke="#303030" stroke-width="0.08">Immune system</text>
<text transform="translate(536.40,416.40) rotate(-76.50)" font-size="8.723" text-anchor="end" fill="#303030" stroke="#303030" stroke-width="0.08">Environmental adaptation</text>
</svg>
</body></html>
